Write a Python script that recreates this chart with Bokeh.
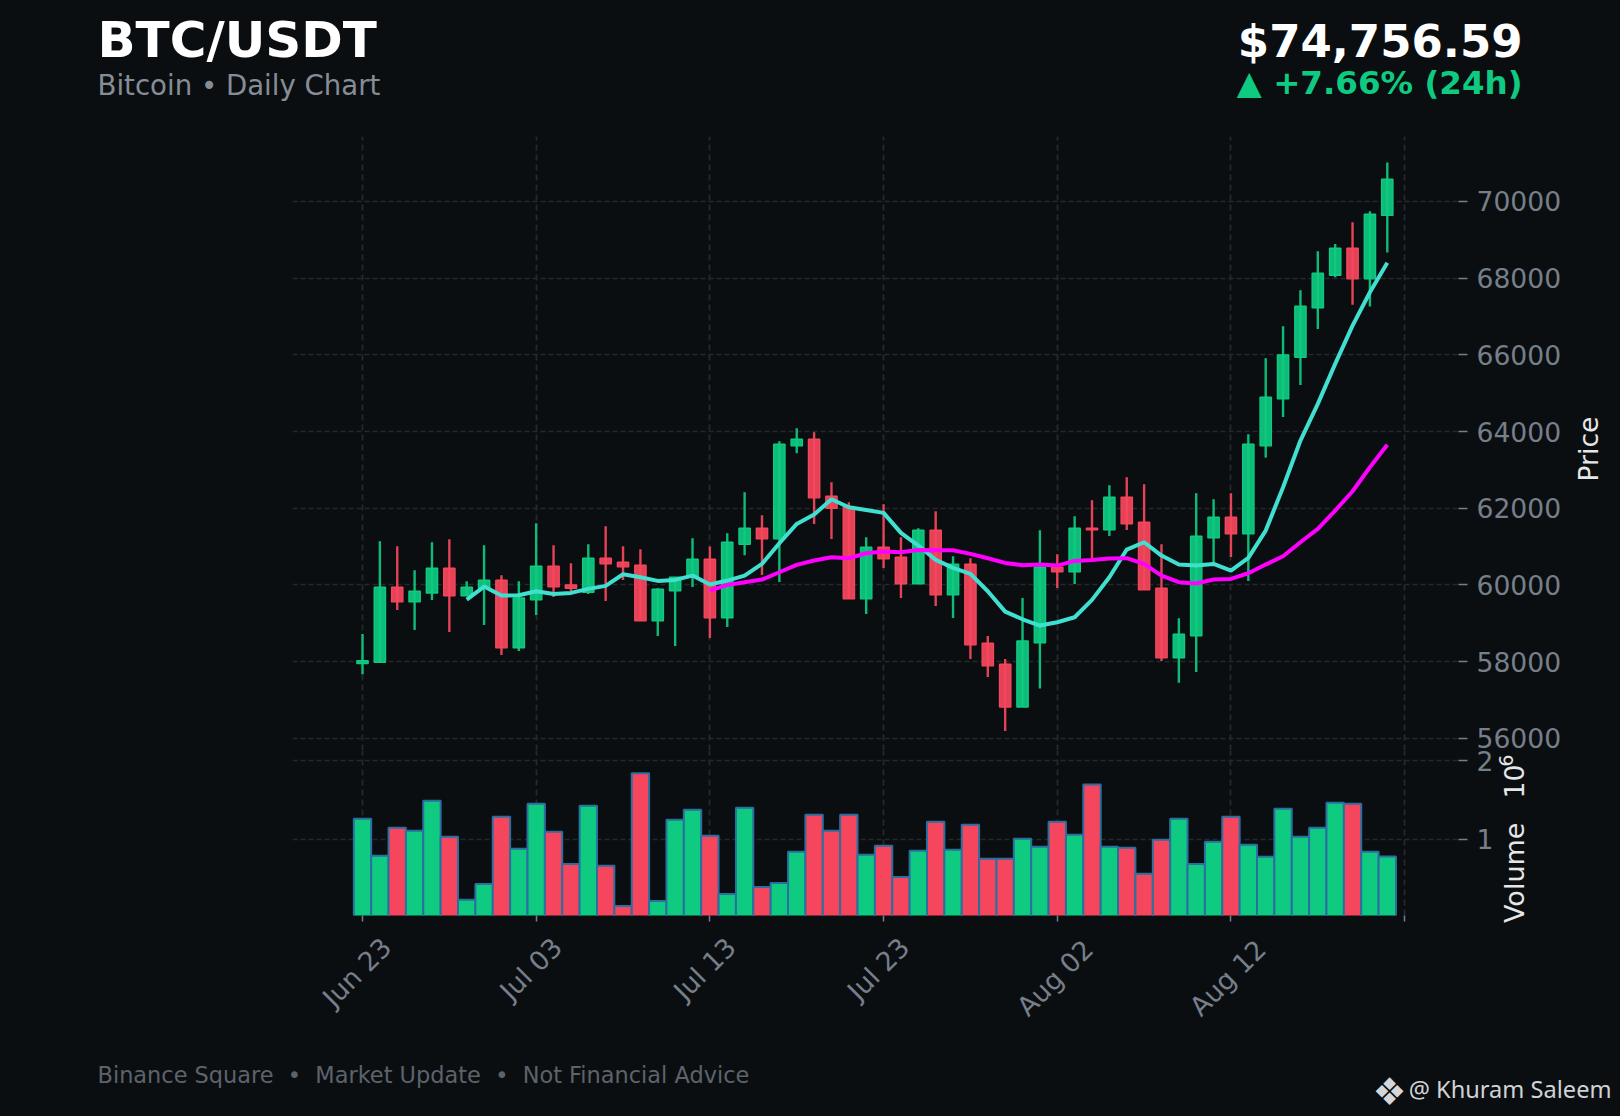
from math import pi
from bokeh.embed import file_html
from bokeh.layouts import column
from bokeh.models import ColumnDataSource, FixedTicker, Label, Range1d
from bokeh.plotting import figure
from bokeh.resources import INLINE

BG = "#0b0e11"
GREEN = "#0ecb81"
RED = "#f6465d"
GRID = "#25292e"
TICKTXT = "#767f8a"

tick_days = [0, 10, 20, 30, 40, 50, 60]
tick_labels = ["Jun 23", "Jul 03", "Jul 13", "Jul 23", "Aug 02", "Aug 12", ""]
price_ticks = [56000, 58000, 60000, 62000, 64000, 66000, 68000, 70000]
volume_ticks = [1000000, 2000000]

days = list(range(60))
opens = [57950, 57980, 59940, 59557, 59790, 60435, 59713, 59920, 60122, 58357, 59609, 60487, 60000, 59809, 60696, 60591, 60513, 59061, 59843, 60200,
         60670, 59140, 61061, 61478, 61200, 63625, 63800, 62313, 62026, 59635, 60983, 60722, 60026, 61426, 59739, 60539, 58479, 57930, 56817, 58487,
         60461, 60339, 61478, 61435, 62287, 61635, 59913, 58096, 58670, 61226, 61765, 61330, 63625, 64851, 65938, 67225, 68077, 68781, 67982, 69637]
closes = [58020, 59940, 59557, 59835, 60435, 59713, 59940, 60122, 58357, 59661, 60487, 59948, 59913, 60696, 60548, 60470, 59061, 59887, 60200, 60670,
          59140, 61113, 61478, 61200, 63669, 63800, 62270, 62000, 59635, 60983, 60678, 60026, 61426, 59739, 60539, 58435, 57887, 56817, 58539, 60461,
          60339, 61478, 61435, 62287, 61591, 59870, 58096, 58713, 61269, 61765, 61330, 63669, 64895, 65999, 67268, 68129, 68781, 67982, 69668, 70584]
highs = [58720, 61139, 61008, 60383, 61113, 61190, 60096, 61035, 60252, 60096, 61608, 61035, 60565, 61061, 61530, 61008, 60930, 59913, 60200, 61217,
         61000, 61348, 62417, 61817, 63748, 64086, 63983, 62678, 62156, 61243, 62104, 61243, 61478, 61921, 60748, 60696, 58670, 58070, 59661, 61426,
         60800, 61791, 62208, 62600, 62809, 62626, 61061, 59130, 62391, 62234, 62391, 63930, 65912, 66747, 67686, 68703, 68894, 69460, 69746, 71014]
lows = [57670, 57960, 59348, 58826, 59609, 58774, 59713, 58957, 58174, 58278, 59217, 59687, 59843, 59765, 59583, 60130, 59061, 58670, 58409, 59948,
        58618, 58904, 60774, 60261, 60078, 63434, 61591, 61200, 59635, 59244, 60443, 59661, 60026, 59452, 59139, 58070, 57600, 56190, 56817, 57300,
        59922, 60026, 60635, 61278, 61435, 59870, 58018, 57450, 57731, 60548, 60730, 60104, 63321, 64382, 65216, 66677, 68025, 67304, 67260, 68670]
volumes = [1264000, 791000, 1149000, 1111000, 1494000, 1034000, 234000, 434000, 1289000, 881000, 1455000, 1098000, 689000, 1430000, 664000, 154000, 1843000, 217000, 1251000, 1379000,
           1047000, 306000, 1404000, 396000, 447000, 843000, 1315000, 1111000, 1315000, 804000, 919000, 523000, 855000, 1226000, 868000, 1187000, 753000, 753000, 1009000, 906000,
           1226000, 1060000, 1698000, 906000, 894000, 562000, 996000, 1264000, 689000, 970000, 1289000, 932000, 779000, 1391000, 1034000, 1149000, 1468000, 1455000, 843000, 783000]
teal_days = list(range(6, 60))
teal = [59617, 59957, 59722, 59730, 59835, 59765, 59791, 59896, 59974, 60278, 60200, 60104, 60130, 60243,
        60009, 60113, 60243, 60548, 61087, 61591, 61834, 62234, 62026, 61956, 61878, 61356, 61026, 60652, 60443, 60287, 59835, 59304, 59104, 58939,
        59026, 59157, 59609, 60200, 60922, 61113, 60765, 60530, 60504, 60548, 60374, 60704, 61417, 62547, 63765, 64721, 65764, 66764, 67633, 68400]
magenta_days = list(range(20, 60))
magenta = [59852, 60000, 60070, 60139, 60330, 60522, 60635, 60722, 60696, 60826, 60870, 60852, 60913, 60904, 60904, 60809, 60696, 60574, 60513, 60530,
           60504, 60626, 60652, 60687, 60696, 60548, 60243, 60070, 60035, 60139, 60156, 60304, 60530, 60748, 61113, 61461, 61939, 62443, 63069, 63654]

colors = [GREEN if c >= o else RED for o, c in zip(opens, closes)]
src = ColumnDataSource(dict(day=days, o=opens, c=closes, h=highs, l=lows, v=volumes, col=colors))

X0, X1 = -4.03, 63.1
x_range = Range1d(X0, X1)
PAGE_W, PAGE_H = 1620, 1116
FRAME_LEFT = 292
FRAME_W = 1166
SCALE = FRAME_W / (X1 - X0)

p = figure(frame_width=FRAME_W, frame_height=614, x_range=x_range, y_range=Range1d(55681, 71695),
           y_axis_location="right", x_axis_location=None, toolbar_location=None, output_backend="svg",
           background_fill_color=BG, border_fill_color=BG,
           min_border_left=FRAME_LEFT, min_border_right=162, min_border_top=136, min_border_bottom=8)
p.outline_line_color = None


def style(fig, ticks):
    fig.yaxis.ticker = FixedTicker(ticks=ticks)
    fig.yaxis.axis_line_color = None
    fig.yaxis.major_tick_line_color = TICKTXT
    fig.yaxis.major_tick_line_width = 1.5
    fig.yaxis.major_tick_out = 9
    fig.yaxis.major_tick_in = 0
    fig.yaxis.minor_tick_line_color = None
    fig.yaxis.major_label_text_color = TICKTXT
    fig.yaxis.major_label_text_font = "DejaVu Sans"
    fig.yaxis.major_label_text_font_size = "26.6px"
    fig.yaxis.major_label_standoff = 9
    fig.yaxis.formatter.use_scientific = False
    fig.xgrid.ticker = FixedTicker(ticks=tick_days)
    fig.xgrid.grid_line_color = GRID
    fig.xgrid.grid_line_width = 1.8
    fig.xgrid.grid_line_dash = "6 4"
    fig.ygrid.grid_line_color = GRID
    fig.ygrid.grid_line_width = 1.6
    fig.ygrid.grid_line_dash = "5 3"


style(p, price_ticks)
p.yaxis.formatter.precision = 0

p.segment("day", "h", "day", "l", source=src, color="col", line_width=2.4, line_alpha=0.92)
p.vbar("day", 0.65, "o", "c", source=src, fill_color="col", fill_alpha=0.92, line_color="col", line_width=1.4)
p.line(teal_days, teal, line_color="#40e0d0", line_width=4)
p.line(magenta_days, magenta, line_color="#ff00ff", line_width=4)

v = figure(frame_width=FRAME_W, frame_height=165, x_range=x_range, y_range=Range1d(32000, 2132000),
           y_axis_location="right", toolbar_location=None, output_backend="svg",
           background_fill_color=BG, border_fill_color=None,
           min_border_left=FRAME_LEFT, min_border_right=162, min_border_top=14, min_border_bottom=201)
v.margin = (-22, 0, 0, 0)
v.outline_line_color = None
style(v, volume_ticks)
v.yaxis.major_label_overrides = {1000000: "1", 2000000: "2"}
v.xaxis.ticker = FixedTicker(ticks=tick_days)
v.xaxis.major_label_overrides = {d: "" for d in tick_days}
v.xaxis.axis_line_color = None
v.xaxis.major_tick_line_color = TICKTXT
v.xaxis.major_tick_line_width = 1.5
v.xaxis.major_tick_out = 6
v.xaxis.major_tick_in = 0
v.xaxis.minor_tick_line_color = None

v.vbar("day", 1.0, 0, "v", source=src, fill_color="col", line_color="#2a6f9f", line_width=2)

# Transparent page-sized layer for every text that lies outside the plot frames.
overlay = figure(width=PAGE_W, height=PAGE_H, toolbar_location=None, output_backend="svg",
                 x_range=Range1d(X0 - FRAME_LEFT / SCALE, X1 + (PAGE_W - FRAME_LEFT - FRAME_W) / SCALE),
                 y_range=Range1d(0, PAGE_H), x_axis_location=None, y_axis_location=None,
                 background_fill_color=None, border_fill_color=None,
                 min_border_left=0, min_border_right=0, min_border_top=0, min_border_bottom=0)
overlay.outline_line_color = None
overlay.grid.visible = False
overlay.margin = (-PAGE_H, 0, 0, 0)


def put(text, X, Y, size, color, style_="normal", align="left", angle=0, font="DejaVu Sans"):
    overlay.add_layout(Label(x=X, y=PAGE_H - Y, x_units="screen", y_units="screen", text=text,
                             text_font=font, text_font_size=size, text_color=color,
                             text_font_style=style_, text_align=align, text_baseline="alphabetic",
                             angle=angle, angle_units="rad"))


put("BTC/USDT", 97, 39, "50px", "#ffffff", "bold")
put("Bitcoin \u2022 Daily Chart", 97, 85, "27.6px", "#868d96")
put("$74,756.59", 1522, 40.5, "45px", "#ffffff", "bold", "right")
put("\u25b2 +7.66% (24h)", 1522, 82.6, "32.5px", GREEN, "bold", "right")
put("Price", 1587.7, 481, "26.6px", "#e6e6e6", angle=pi / 2)

put("Volume", 1513.6, 922.5, "27px", "#e6e6e6", angle=pi / 2)
put("10", 1513.6, 798, "26.6px", "#e6e6e6", angle=pi / 2)
put("6", 1505.5, 766, "18.6px", "#e6e6e6", angle=pi / 2)
put("Binance Square \u00a0\u2022\u00a0 Market Update \u00a0\u2022\u00a0 Not Financial Advice", 97, 1074.7, "22.45px", "#5c636b")
put("\u2756", 1389, 1091.5, "38px", "#d4d6d8", align="center")
put("@ Khuram Saleem", 1611, 1088.7, "23.6px", "#d0d3d6", align="right", font="Noto Sans")

label_offsets = [24, 21, 21, 21, 31, 30]
label_tops = [942, 942, 942, 942, 944, 944]
for d, t, dx, ty in zip(tick_days, tick_labels, label_offsets, label_tops):
    overlay.add_layout(Label(x=d, y=PAGE_H - ty, x_units="data", y_units="screen", x_offset=dx,
                             text=t, text_font="DejaVu Sans", text_font_size="26.6px", text_color=TICKTXT,
                             text_align="right", text_baseline="middle", angle=pi / 4, angle_units="rad"))

layout = column(column(p, v, spacing=0), overlay, spacing=0)
html = file_html(layout, INLINE)
html = html.replace("<head>", "<head><style>html,body{background:#0b0e11}</style>", 1)
open("out.html", "w").write(html)
